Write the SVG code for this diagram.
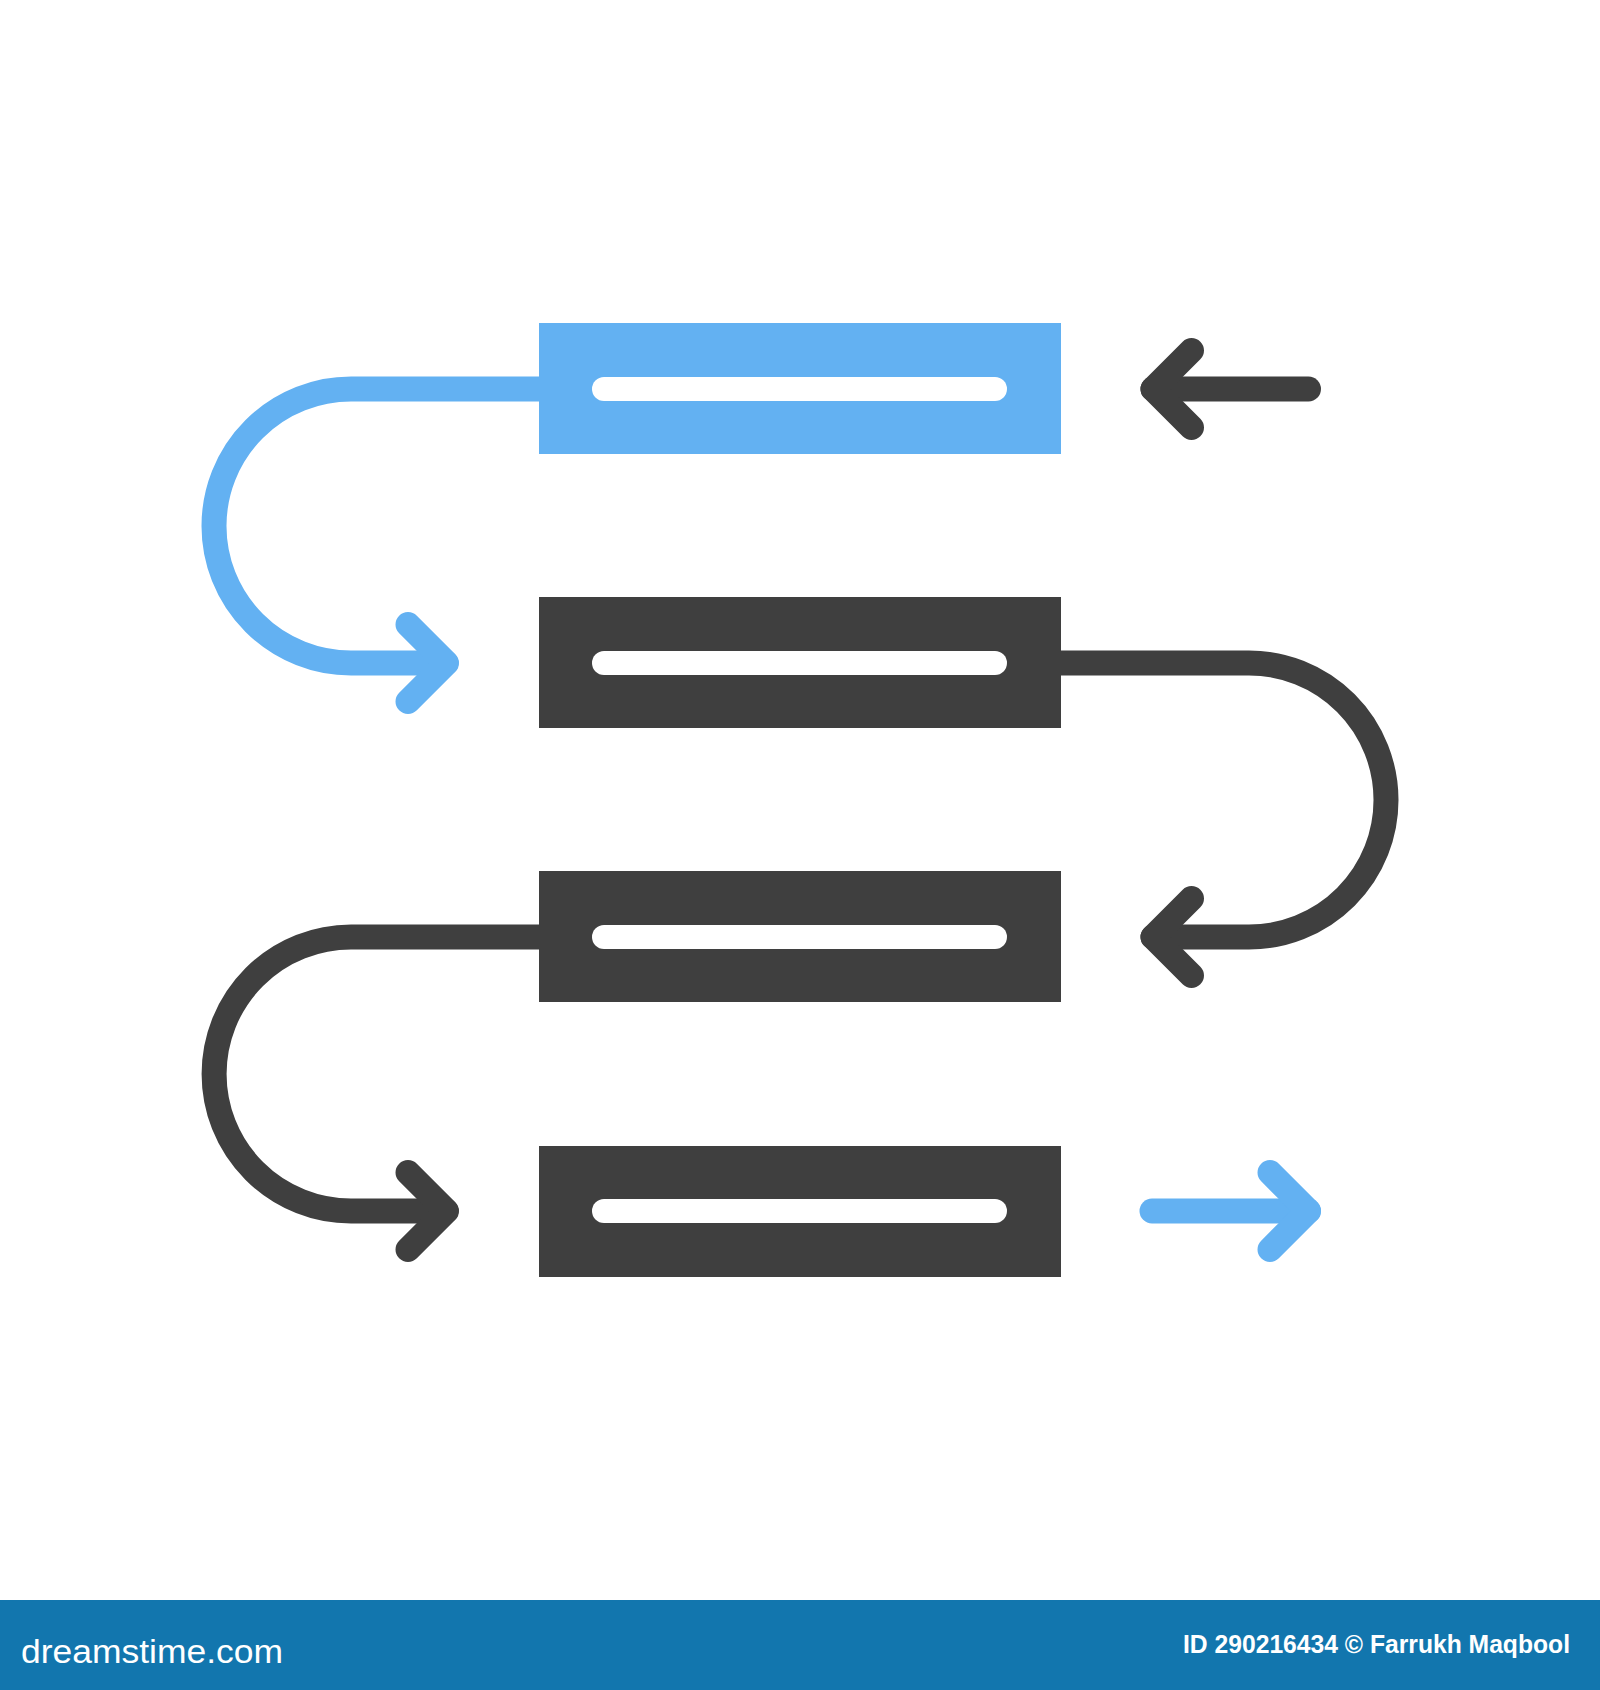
<svg xmlns="http://www.w3.org/2000/svg" width="1600" height="1690" viewBox="0 0 1600 1690">
<style>
.blue{fill:#63b1f2}
.dark{fill:#3f3f3f}
.bar{stroke:#ffffff;stroke-width:24;stroke-linecap:round;fill:none}
.cb{stroke:#63b1f2;stroke-width:25;fill:none;stroke-linecap:round;stroke-linejoin:round}
.cd{stroke:#3f3f3f;stroke-width:25;fill:none;stroke-linecap:round;stroke-linejoin:round}
.ft{fill:#ffffff;font-family:"Liberation Sans",Arial,sans-serif}
</style>
<rect x="0" y="0" width="1600" height="1690" fill="#ffffff"/>
<g id="connectors">
<path class="cb" d="M539,389 H351 A137,137 0 0 0 351,663 H446"/>
<polyline class="cb" points="408,624.5 446.5,663 408,701.5"/>
<path class="cd" d="M1061,663 H1249 A137,137 0 0 1 1249,937 H1153"/>
<polyline class="cd" points="1191.5,898.5 1153,937 1191.5,975.5"/>
<path class="cd" d="M539,937 H351 A137,137 0 0 0 351,1211 H446"/>
<polyline class="cd" points="408,1172.5 446.5,1211 408,1249.5"/>
<path class="cd" d="M1308.5,389 H1153"/>
<polyline class="cd" points="1191.5,350.5 1153,389 1191.5,427.5"/>
<path class="cb" d="M1152,1211 H1308.5"/>
<polyline class="cb" points="1270,1172.5 1308.5,1211 1270,1249.5"/>
</g>
<g id="node1">
<rect class="blue" x="539" y="323" width="522" height="131"/>
<line class="bar" x1="604" y1="389" x2="995" y2="389"/>
</g>
<g id="node2">
<rect class="dark" x="539" y="597" width="522" height="131"/>
<line class="bar" x1="604" y1="663" x2="995" y2="663"/>
</g>
<g id="node3">
<rect class="dark" x="539" y="871" width="522" height="131"/>
<line class="bar" x1="604" y1="937" x2="995" y2="937"/>
</g>
<g id="node4">
<rect class="dark" x="539" y="1146" width="522" height="131"/>
<line class="bar" x1="604" y1="1211" x2="995" y2="1211"/>
</g>
<g id="footer">
<rect x="0" y="1600" width="1600" height="90" fill="#1276ae"/>
<text class="ft" x="21" y="1663" font-size="34" textLength="262" lengthAdjust="spacingAndGlyphs">dreamstime.com</text>
<text class="ft" x="1183" y="1653" font-size="26" font-weight="bold" font-family="Roboto, 'Liberation Sans', sans-serif" textLength="387" lengthAdjust="spacingAndGlyphs">ID 290216434 © Farrukh Maqbool</text>
</g>
</svg>
